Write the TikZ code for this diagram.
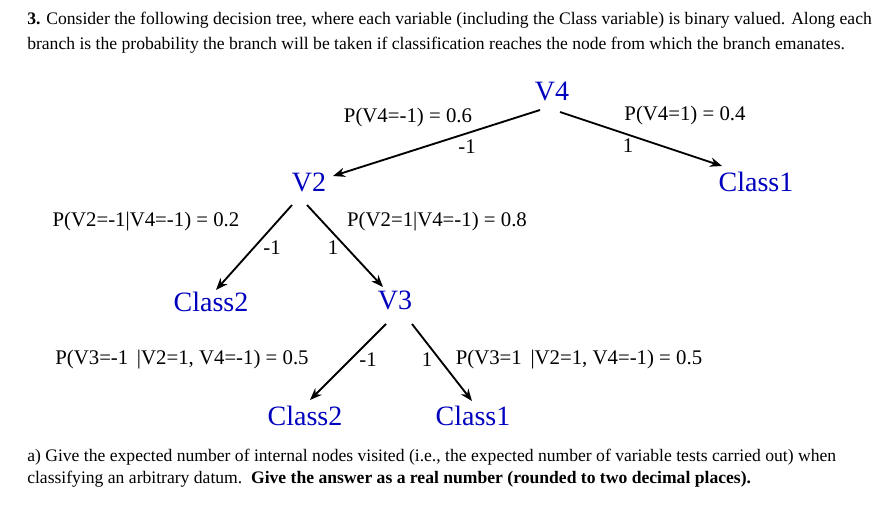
\documentclass[tikz,border=0pt]{standalone}
\usepackage{fontspec}
\setmainfont{Liberation Serif}
\usetikzlibrary{arrows.meta}
\begin{document}
\begin{tikzpicture}[x=0.75pt,y=-0.75pt,
 var/.style={text=blue!75!black,font=\fontsize{21}{24}\selectfont,inner sep=2pt},
 lab/.style={font=\fontsize{15.6}{17}\selectfont,inner sep=1pt},
 body/.style={font=\fontsize{13.2}{16}\selectfont,anchor=west,inner sep=0pt},
 edge/.style={-{Stealth[length=9pt,width=7pt]},line width=1.4pt}]
\useasboundingbox[fill=white] (0,0) rectangle (896,513);
\node[body] (t1) at (27,20) {\textbf{3.} Consider the following decision tree, where each variable (including the Class variable) is binary valued. Along each};
\node[body] (t2) at (27,45) {branch is the probability the branch will be taken if classification reaches the node from which the branch emanates.};
\node[var] (v4) at (552,92) {V4};
\node[var] (v2) at (309,182) {V2};
\node[var] (c1a) at (756,182) {Class1};
\node[var] (c2a) at (211,302) {Class2};
\node[var] (v3) at (395,300) {V3};
\node[var] (c2b) at (305,416) {Class2};
\node[var] (c1b) at (473,416) {Class1};
\coordinate (a1) at (540,110); \coordinate (b1) at (333,176);
\coordinate (a2) at (560,112); \coordinate (b2) at (722,166);
\coordinate (a3) at (292,205); \coordinate (b3) at (216,290);
\coordinate (a4) at (307,205); \coordinate (b4) at (383,287);
\coordinate (a5) at (386,324); \coordinate (b5) at (310,400);
\coordinate (a6) at (412,324); \coordinate (b6) at (472,401);
\draw[edge] (a1) -- (b1);
\draw[edge] (a2) -- (b2);
\draw[edge] (a3) -- (b3);
\draw[edge] (a4) -- (b4);
\draw[edge] (a5) -- (b5);
\draw[edge] (a6) -- (b6);
\node[lab] (l1) at (408,118) {P(V4=-1) = 0.6};
\node[lab] (l2) at (467,147) {-1};
\node[lab] (l3) at (685,116) {P(V4=1) = 0.4};
\node[lab] (l4) at (628,146) {1};
\node[lab] (l5) at (146,222) {P(V2=-1|V4=-1) = 0.2};
\node[lab] (l6) at (272,248) {-1};
\node[lab] (l7) at (333,248) {1};
\node[lab] (l8) at (437,222) {P(V2=1|V4=-1) = 0.8};
\node[lab] (l9) at (182,360) {P(V3=-1 \,|V2=1, V4=-1) = 0.5};
\node[lab] (l10) at (368,360) {-1};
\node[lab] (l11) at (427,360) {1};
\node[lab] (l12) at (579,360) {P(V3=1 \,|V2=1, V4=-1) = 0.5};
\node[body] (t3) at (27,457) {a) Give the expected number of internal nodes visited (i.e., the expected number of variable tests carried out) when};
\node[body] (t4) at (27,479) {classifying an arbitrary datum.\enspace\textbf{Give the answer as a real number (rounded to two decimal places).}};
\end{tikzpicture}
\end{document}
